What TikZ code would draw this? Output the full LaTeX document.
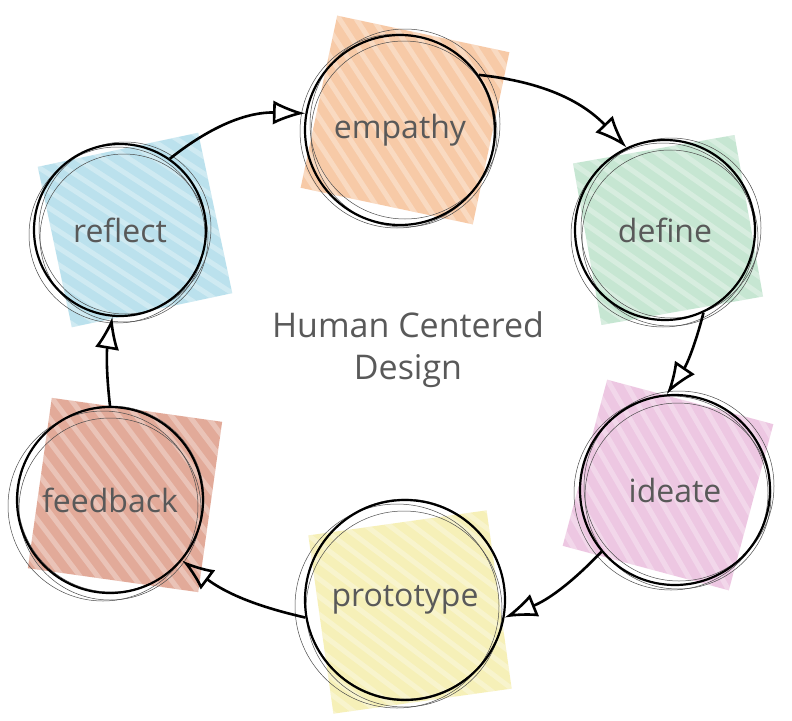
\documentclass[tikz,border=0pt]{standalone}
\usepackage{fontspec}
\setmainfont{Open Sans}
\usetikzlibrary{arrows.meta}
\definecolor{corange}{HTML}{F5B483}
\definecolor{cgreen}{HTML}{AEDCC0}
\definecolor{cpink}{HTML}{E6B0D6}
\definecolor{cyellow}{HTML}{F3EA9A}
\definecolor{cred}{HTML}{D7876F}
\definecolor{cblue}{HTML}{9FD5E6}
\tikzset{
  stage/.style={circle,draw=black,line width=2.2pt,minimum size=#1,inner sep=0pt,font=\fontsize{32}{32}\selectfont,text=black!65},
  sketch/.style={draw=black!70,line width=0.5pt},
  flow/.style={line width=2.6pt,-{Latex[open,scale=2.2]}},
}
\newcommand{\patch}[4]{% center, angle, color, half size
  \begin{scope}[shift={#1},rotate=#2]
    \fill[#3,opacity=0.7] (-#4,-#4) rectangle (#4,#4);
    \clip (-#4,-#4) rectangle (#4,#4);
    \foreach \k in {-200,-180,...,200}{\draw[white,opacity=0.3,line width=5pt] (\k-150,-150)--(\k+150,150);}
  \end{scope}}
\begin{document}
\begin{tikzpicture}[x=1pt,y=-1pt]
\useasboundingbox (0,0) rectangle (792,720);
\fill[white] (0,0) rectangle (792,720);
\patch{(405,120)}{-12}{corange}{88}
\patch{(668,230)}{10}{cgreen}{82}
\patch{(668,485)}{-15}{cpink}{86}
\patch{(410,612)}{8}{cyellow}{90}
\patch{(125,495)}{-8}{cred}{86}
\patch{(135,230)}{12}{cblue}{82}
\foreach \c/\r in {{(402,128)}/95,{(668,232)}/90,{(676,490)}/95,{(402,603)}/100,{(108,503)}/93,{(122,232)}/86}{
  \draw[sketch] \c ++(3,-4) circle (\r);
  \draw[sketch] \c ++(-5,3) circle (\r+2);
  \draw[sketch] \c ++(2,6) circle (\r-2);
}
\node[stage=190] (emp) at (400,130) {empathy};
\node[stage=180] (def) at (665,230) {define};
\node[stage=190] (ide) at (675,490) {ideate};
\node[stage=200] (pro) at (405,600) {prototype};
\node[stage=186] (fee) at (110,500) {feedback};
\node[stage=172] (ref) at (120,230) {reflect};
\node[align=center,font=\fontsize{34}{42}\selectfont,text=black!65] (title) at (408,350) {Human Centered\\Design};
\draw[flow] (emp.35) to[bend left=20] (def.115);
\draw[flow] (def.-65) to[bend left=10] (ide.95);
\draw[flow] (ide.-140) to[bend left=12] (pro.-10);
\draw[flow] (pro.-170) to[bend left=12] (fee.-40);
\draw[flow] (fee.90) to[bend left=8] (ref.-95);
\draw[flow] (ref.55) to[bend left=20] (emp.170);
\end{tikzpicture}
\end{document}
